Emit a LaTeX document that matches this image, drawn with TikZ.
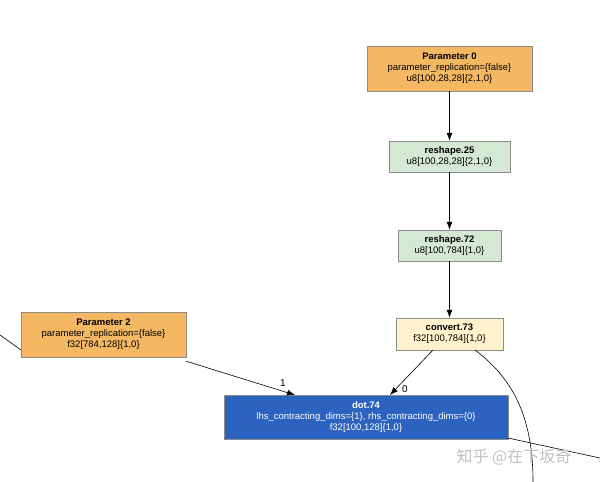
\documentclass[tikz,border=0pt]{standalone}
\usepackage{fontspec}
\setmainfont{Liberation Sans}
\newfontfamily\cjk{Noto Sans CJK SC}
\usetikzlibrary{arrows.meta}
\definecolor{orng}{HTML}{F5B862}
\definecolor{grn}{HTML}{D5E8D4}
\definecolor{ylw}{HTML}{FFF2CC}
\definecolor{blu}{HTML}{2C62C0}
\tikzset{
 op/.style={draw=black!45, line width=0.5pt, align=center, font=\fontsize{9.5}{11}\selectfont, inner sep=0pt},
 edge/.style={-{Latex[length=8pt,width=6pt]}, line width=0.6pt},
 lbl/.style={font=\fontsize{10}{12}\selectfont}
}
\begin{document}
\begin{tikzpicture}[x=1pt,y=-1pt]
\useasboundingbox (0,0) rectangle (600,482);
\node[op, fill=orng, minimum width=165, minimum height=45] (p0) at (449.5,68.5) {\textbf{Parameter 0}\\parameter\_replication=\{false\}\\u8[100,28,28]\{2,1,0\}};
\node[op, fill=grn, minimum width=121, minimum height=31] (r25) at (449.5,156.5) {\textbf{reshape.25}\\u8[100,28,28]\{2,1,0\}};
\node[op, fill=grn, minimum width=103, minimum height=31] (r72) at (449.5,245.5) {\textbf{reshape.72}\\u8[100,784]\{1,0\}};
\node[op, fill=ylw, minimum width=107, minimum height=32] (c73) at (449.5,334) {\textbf{convert.73}\\f32[100,784]\{1,0\}};
\node[op, fill=orng, minimum width=165, minimum height=45] (p2) at (103.5,334.5) {\textbf{Parameter 2}\\parameter\_replication=\{false\}\\f32[784,128]\{1,0\}};
\node[op, fill=blu, text=white, minimum width=284, minimum height=44] (d74) at (366,417) {\textbf{dot.74}\\lhs\_contracting\_dims=\{1\}, rhs\_contracting\_dims=\{0\}\\f32[100,128]\{1,0\}};
\draw[edge] (p0) -- (r25);
\draw[edge] (r25) -- (r72);
\draw[edge] (r72) -- (c73);
\draw[edge] (p2.south east) ++(0,4) coordinate (a1) -- (295,395) coordinate (a2);
\node[lbl] (l1) at (283,383) {1};
\draw[edge] (433,350) coordinate (b1) -- (390,395) coordinate (b2);
\node[lbl] (l0) at (405,389) {0};
\coordinate (e0) at (0,335);
\coordinate (e1) at (21,350);
\draw[line width=0.6pt] (e0) -- (e1);
\coordinate (f0) at (475,350);
\coordinate (f1) at (533,482);
\draw[line width=0.6pt] (f0) .. controls (515,380) and (533,420) .. (f1);
\coordinate (g0) at (508,438);
\coordinate (g1) at (600,458);
\draw[line width=0.6pt] (g0) -- (g1);
\node[text=black!25, font=\cjk\fontsize{16}{18}\selectfont, anchor=west] (wm) at (453,457) {知乎 @在下坂奇};
\end{tikzpicture}
\end{document}
